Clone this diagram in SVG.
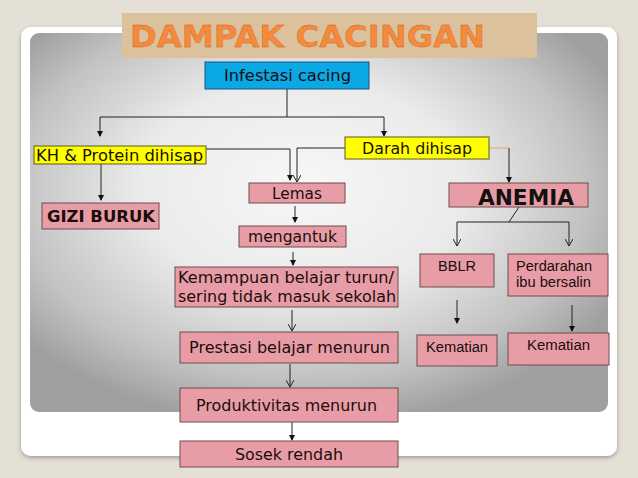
<svg xmlns="http://www.w3.org/2000/svg" width="638" height="478" viewBox="0 0 638 478">
<defs>
<radialGradient id="pg" cx="0.47" cy="0.42" r="0.62" fx="0.47" fy="0.4">
<stop offset="0" stop-color="#f7f7f7"/>
<stop offset="0.45" stop-color="#ebebeb"/>
<stop offset="0.8" stop-color="#c2c2c2"/>
<stop offset="1" stop-color="#9f9f9f"/>
</radialGradient>
<filter id="sh" x="-5%" y="-5%" width="110%" height="112%">
<feDropShadow dx="0" dy="2" stdDeviation="2" flood-color="#000" flood-opacity="0.3"/>
</filter>
<marker id="af" markerWidth="6" markerHeight="6" refX="5" refY="3" orient="auto" markerUnits="userSpaceOnUse">
<path d="M0,0 L6,3 L0,6 z" fill="#111"/>
</marker>
<marker id="ao" markerWidth="8" markerHeight="8" refX="7" refY="4" orient="auto" markerUnits="userSpaceOnUse">
<path d="M0,0 L7,4 L0,8" fill="none" stroke="#222" stroke-width="1"/>
</marker>
</defs>
<style>
.pk{fill:#e89da6;stroke:#6e4c4c;stroke-width:1}
.yl{fill:#ffff00;stroke:#5a5a20;stroke-width:1}
.t{font-family:"DejaVu Sans",Verdana,sans-serif;font-size:16.5px;fill:#1a0d0d}
.a{font-family:"Liberation Sans",Arial,sans-serif;font-size:15.5px;fill:#1a0d0d}
.c{stroke:#222;stroke-width:1;fill:none}
</style>
<rect width="638" height="478" fill="#e5e0d5"/>
<rect x="21" y="27" width="596" height="429" rx="10" fill="#ffffff" filter="url(#sh)"/>
<rect x="30" y="33" width="578" height="379" rx="9" fill="url(#pg)"/>
<g id="title">
<rect x="122" y="13" width="415" height="45" fill="#dcc29c"/>
<text x="130" y="47" font-family="'DejaVu Sans',Verdana,sans-serif" font-weight="bold" font-size="30" fill="#f58a3c" stroke="#c06020" stroke-width="0.3" textLength="355" lengthAdjust="spacingAndGlyphs">DAMPAK CACINGAN</text>
</g>
<g id="connectors">
<path class="c" d="M287,89 V117 M100,117 H384"/>
<path class="c" d="M100,117 V136" marker-end="url(#af)"/>
<path class="c" d="M384,117 V136" marker-end="url(#af)"/>
<path class="c" d="M206,149 H290 V180" marker-end="url(#af)"/>
<path class="c" d="M345,148 H297 V182" marker-end="url(#ao)"/>
<path class="c" d="M101,160 V200" marker-end="url(#af)"/>
<path d="M489,148 H509" stroke="#f0a060" stroke-width="1" fill="none"/>
<path class="c" d="M509,148 V182" marker-end="url(#af)"/>
<path class="c" d="M519,207 L509,222 M457,222 H569"/>
<path class="c" d="M457,222 V246" marker-end="url(#ao)"/>
<path class="c" d="M569,222 V246" marker-end="url(#ao)"/>
<path class="c" d="M457,300 V323" marker-end="url(#af)"/>
<path class="c" d="M572,305 V331" marker-end="url(#af)"/>
<path class="c" d="M295,206 V222" marker-end="url(#af)"/>
<path class="c" d="M293,252 V265" marker-end="url(#af)"/>
<path class="c" d="M292,310 V331" marker-end="url(#ao)"/>
<path class="c" d="M290,364 V387" marker-end="url(#ao)"/>
<path class="c" d="M292,422 V440" marker-end="url(#af)"/>
</g>
<g id="infestasi">
<rect x="205" y="62" width="164" height="27" fill="#0aa8e4" stroke="#23507a" stroke-width="1"/>
<text class="t" x="224" y="81" textLength="127" lengthAdjust="spacingAndGlyphs">Infestasi cacing</text>
</g>
<g id="kh">
<rect class="yl" x="34" y="146" width="172" height="18"/>
<text class="t" x="36" y="161" textLength="167" lengthAdjust="spacingAndGlyphs">KH &amp; Protein dihisap</text>
</g>
<g id="darah">
<rect class="yl" x="345" y="137" width="144" height="22"/>
<text class="t" x="362" y="154" textLength="110" lengthAdjust="spacingAndGlyphs">Darah dihisap</text>
</g>
<g id="gizi">
<rect class="pk" x="42" y="203" width="117" height="26"/>
<text x="47" y="222" font-family="'DejaVu Sans',Verdana,sans-serif" font-weight="bold" font-size="16" fill="#1a0d0d" textLength="108" lengthAdjust="spacingAndGlyphs">GIZI BURUK</text>
</g>
<g id="lemas">
<rect class="pk" x="249" y="183" width="96" height="20"/>
<text class="t" x="272" y="199" textLength="50" lengthAdjust="spacingAndGlyphs">Lemas</text>
</g>
<g id="anemia">
<rect class="pk" x="449" y="183" width="139" height="24"/>
<text x="478" y="205" font-family="'DejaVu Sans',Verdana,sans-serif" font-weight="bold" font-size="21" fill="#111" textLength="96" lengthAdjust="spacingAndGlyphs">ANEMIA</text>
</g>
<g id="mengantuk">
<rect class="pk" x="239" y="226" width="107" height="21"/>
<text class="t" x="248" y="242" textLength="89" lengthAdjust="spacingAndGlyphs">mengantuk</text>
</g>
<g id="kemampuan">
<rect class="pk" x="175" y="267" width="223" height="40"/>
<text class="t" x="178" y="283" textLength="216" lengthAdjust="spacingAndGlyphs">Kemampuan belajar turun/</text>
<text class="t" x="178" y="302" textLength="218" lengthAdjust="spacingAndGlyphs">sering tidak masuk sekolah</text>
</g>
<g id="bblr">
<rect class="pk" x="420" y="254" width="74" height="33"/>
<text class="a" x="438" y="271" textLength="38" lengthAdjust="spacingAndGlyphs">BBLR</text>
</g>
<g id="perdarahan">
<rect class="pk" x="508" y="254" width="100" height="42"/>
<text class="a" x="516" y="271" textLength="76" lengthAdjust="spacingAndGlyphs">Perdarahan</text>
<text class="a" x="516" y="287" textLength="75" lengthAdjust="spacingAndGlyphs">ibu bersalin</text>
</g>
<g id="prestasi">
<rect class="pk" x="180" y="332" width="218" height="31"/>
<text class="t" x="189" y="353" textLength="201" lengthAdjust="spacingAndGlyphs">Prestasi belajar menurun</text>
</g>
<g id="kematian1">
<rect class="pk" x="417" y="335" width="80" height="31"/>
<text class="a" x="426" y="352" textLength="62" lengthAdjust="spacingAndGlyphs">Kematian</text>
</g>
<g id="kematian2">
<rect class="pk" x="508" y="333" width="101" height="32"/>
<text class="a" x="527" y="350" textLength="63" lengthAdjust="spacingAndGlyphs">Kematian</text>
</g>
<g id="produktivitas">
<rect class="pk" x="180" y="388" width="218" height="34"/>
<text class="t" x="196" y="411" textLength="181" lengthAdjust="spacingAndGlyphs">Produktivitas menurun</text>
</g>
<g id="sosek">
<rect class="pk" x="180" y="441" width="218" height="26"/>
<text class="t" x="235" y="460" textLength="108" lengthAdjust="spacingAndGlyphs">Sosek rendah</text>
</g>
</svg>
